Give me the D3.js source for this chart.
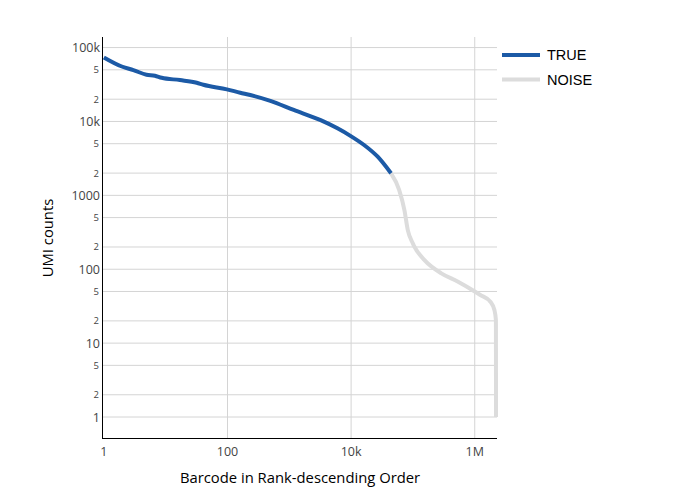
<!DOCTYPE html>
<html>
<head>
<meta charset="utf-8">
<script src="https://cdn.jsdelivr.net/npm/d3@7"></script>
<style>
  body { margin: 0; background: #fff; }
  text { font-family: "Open Sans", sans-serif; }
</style>
</head>
<body>
<script>
// barcode rank vs UMI counts
var trueRank = [1, 2, 3, 4.9, 6.7, 8.6, 17, 31.8, 40.7, 97.7, 161, 234, 494, 1180, 3214, 6010, 9890, 16200, 26900, 44200];
var trueUmi  = [73600, 55000, 49600, 42900, 41600, 39000, 36300, 33400, 31400, 27200, 24500, 22800, 19000, 14300, 10400, 8070, 6340, 4800, 3330, 1990];

var noiseRank = [44200, 60000, 72800, 82600, 99600, 106000, 154000, 288000, 537000, 1000000, 1230000, 1790000, 2080000, 2200000, 2210000];
var noiseUmi  = [1990, 1180, 633, 339, 224, 201, 133, 88, 67.8, 50, 44.8, 36.3, 28, 20.5, 1];

var seriesNames = ["TRUE", "NOISE"];
var seriesColors = ["#1c5aa6", "#dcdcdc"];

var xTicks = [1, 100, 1e4, 1e6];
var xTickLabels = ["1", "100", "10k", "1M"];
var yMajor = [1, 10, 100, 1000, 1e4, 1e5];
var yMajorLabels = ["1", "10", "100", "1000", "10k", "100k"];
var yMinor = [2, 5, 20, 50, 200, 500, 2000, 5000, 2e4, 5e4];

var W = 679, H = 501;
var mLeft = 102, mRight = 497, mTop = 37, mBottom = 438;

var svg = d3.select("body").append("svg")
  .attr("width", W)
  .attr("height", H);

var x = d3.scaleLog()
  .domain([Math.pow(10, -0.03), Math.pow(10, 6.36)])
  .range([mLeft, mRight]);

var y = d3.scaleLog()
  .domain([Math.pow(10, -0.284), Math.pow(10, 5.143)])
  .range([mBottom, mTop]);

// grid
var grid = svg.append("g");
grid.selectAll("line.h")
  .data(yMajor.concat(yMinor))
  .enter().append("line")
  .attr("x1", mLeft).attr("x2", mRight)
  .attr("y1", function(d) { return y(d); })
  .attr("y2", function(d) { return y(d); })
  .attr("stroke", "#d4d4d4")
  .attr("stroke-width", 1);

grid.selectAll("line.v")
  .data(xTicks.slice(1))
  .enter().append("line")
  .attr("y1", mTop).attr("y2", mBottom)
  .attr("x1", function(d) { return x(d); })
  .attr("x2", function(d) { return x(d); })
  .attr("stroke", "#d4d4d4")
  .attr("stroke-width", 1);

// lines
var line = d3.line()
  .x(function(d) { return x(d[0]); })
  .y(function(d) { return y(d[1]); })
  .curve(d3.curveMonotoneX);

var series = [d3.zip(trueRank, trueUmi), d3.zip(noiseRank, noiseUmi)];

svg.append("g").selectAll("path")
  .data([1, 0])
  .enter().append("path")
  .attr("d", function(i) { return line(series[i]); })
  .attr("fill", "none")
  .attr("stroke", function(i) { return seriesColors[i]; })
  .attr("stroke-width", 4)
  .attr("stroke-linejoin", "round");

// axis lines
svg.append("line")
  .attr("x1", mLeft + 0.5).attr("x2", mLeft + 0.5)
  .attr("y1", mTop).attr("y2", mBottom + 1)
  .attr("stroke", "#000");
svg.append("line")
  .attr("x1", mLeft).attr("x2", mRight)
  .attr("y1", mBottom + 0.5).attr("y2", mBottom + 0.5)
  .attr("stroke", "#000");

// x tick labels
svg.append("g").selectAll("text")
  .data(xTicks)
  .enter().append("text")
  .attr("x", function(d) { return x(d); })
  .attr("y", 456)
  .attr("text-anchor", "middle")
  .attr("font-size", 12.5)
  .attr("fill", "#444")
  .text(function(d, i) { return xTickLabels[i]; });

// y tick labels
svg.append("g").selectAll("text")
  .data(yMajor)
  .enter().append("text")
  .attr("x", 100)
  .attr("y", function(d) { return y(d) + 4.5; })
  .attr("text-anchor", "end")
  .attr("font-size", 12.5)
  .attr("fill", "#444")
  .text(function(d, i) { return yMajorLabels[i]; });

svg.append("g").selectAll("text")
  .data(yMinor)
  .enter().append("text")
  .attr("x", 99)
  .attr("y", function(d) { return y(d) + 3.5; })
  .attr("text-anchor", "end")
  .attr("font-size", 9.5)
  .attr("fill", "#444")
  .text(function(d) { return String(d).charAt(0); });

// axis titles
svg.append("text")
  .attr("x", 300)
  .attr("y", 483)
  .attr("text-anchor", "middle")
  .attr("font-size", 14.8)
  .attr("fill", "#000")
  .text("Barcode in Rank-descending Order");

svg.append("text")
  .attr("transform", "translate(53,238) rotate(-90)")
  .attr("text-anchor", "middle")
  .attr("font-size", 14.8)
  .attr("fill", "#000")
  .text("UMI counts");

// legend
var legend = svg.append("g").selectAll("g")
  .data(seriesNames)
  .enter().append("g")
  .attr("transform", function(d, i) { return "translate(0," + (55 + i * 24.5) + ")"; });

legend.append("line")
  .attr("x1", 502).attr("x2", 540)
  .attr("stroke", function(d, i) { return seriesColors[i]; })
  .attr("stroke-width", 4);

legend.append("text")
  .attr("x", 547)
  .attr("y", 5)
  .style("font-family", "'Liberation Sans', Arial, sans-serif")
  .attr("font-size", 14.5)
  .attr("fill", "#000")
  .text(function(d) { return d; });
</script>
</body>
</html>
